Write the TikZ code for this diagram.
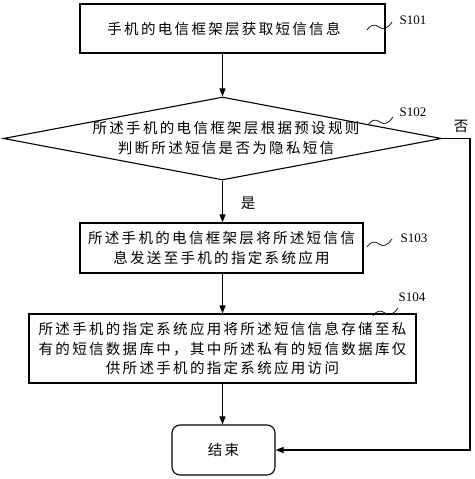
\documentclass[tikz,border=0pt]{standalone}
\usepackage{fontspec}
\setmainfont{Liberation Serif}
\newfontfamily\cjk[LetterSpace=16]{Noto Sans CJK SC}
\usetikzlibrary{shapes.geometric,arrows.meta}
\tikzset{
  x=1pt,y=-1pt,
  every path/.style={line width=1.1pt},
  box/.style={draw, rectangle, inner sep=0pt},
  txt/.style={font=\cjk\fontsize{14.5}{20}\selectfont, align=center, inner sep=0pt},
  lab/.style={font=\fontsize{13}{14}\selectfont, inner sep=0pt},
  arr/.style={-{Triangle[length=8pt,width=6pt]}},
  squig/.pic={\draw[line width=0.7pt] (0,0) .. controls (4,-6) and (8,-6) .. (12,-3) .. controls (16,0) and (20,-1) .. (25,-8);}
}
\begin{document}
\begin{tikzpicture}
\useasboundingbox (0,0) rectangle (474,479);
% step 1
\node[box, minimum width=305pt, minimum height=49pt] (s1) at (232.5,28.5) {};
\node[txt] (t1) at (224,29) {手机的电信框架层获取短信信息};
% decision
\node[draw, diamond, minimum width=438pt, minimum height=83pt, inner sep=0pt] (d) at (222.5,138.5) {};
\node[txt] (td) at (226,138.5) {所述手机的电信框架层根据预设规则\\判断所述短信是否为隐私短信};
% step 3
\node[box, minimum width=283pt, minimum height=50pt, txt] (s3) at (221.5,248) {所述手机的电信框架层将所述短信信\\息发送至手机的指定系统应用};
% step 4
\node[box, minimum width=387pt, minimum height=69pt, txt, font=\cjk\fontsize{14.5}{19.5}\selectfont] (s4) at (222.5,348.5) {所述手机的指定系统应用将所述短信信息存储至私\\有的短信数据库中，其中所述私有的短信数据库仅\\供所述手机的指定系统应用访问};
% end
\node[draw, rectangle, rounded corners=8pt, minimum width=103pt, minimum height=50pt, txt] (e) at (223.5,450) {结束};
\coordinate (r) at (470,0);
% connectors
\draw[arr] (s1.south -| d.north) -- (d.north);
\draw[arr] (d.south) -- (d.south |- s3.north);
\draw[arr] (s3.south -| d.south) -- (d.south |- s4.north);
\draw[arr] (s4.south -| d.south) -- (d.south |- e.north);
\draw[arr] (d.east) -- (d.east -| r) |- (e.east);
% labels
\node[txt] (yes) at (248,203) {是};
\node[txt] (no) at (461,126) {否};
\node[lab] (l1) at (413,20) {S101};
\node[lab] (l2) at (413,112) {S102};
\node[lab] (l3) at (414,238) {S103};
\node[lab] (l4) at (412,297) {S104};
\pic at (367,30) {squig};
\pic at (368,125) {squig};
\pic at (367,247) {squig};
\pic at (373,316) {squig};
\end{tikzpicture}
\end{document}
